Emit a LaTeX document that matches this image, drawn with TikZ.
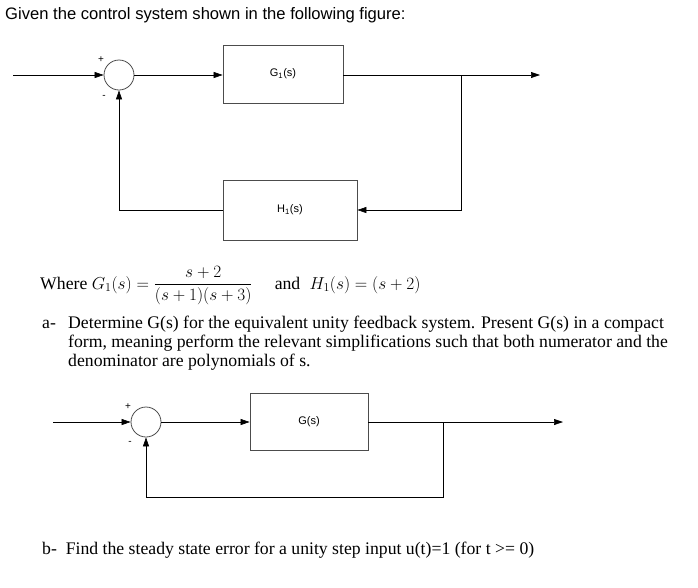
\documentclass[tikz,border=0pt]{standalone}
\usepackage{amsmath}
\usepackage{fontspec}
\setmainfont{Liberation Serif}
\newfontfamily\arial{Liberation Sans}
\usetikzlibrary{arrows.meta}
\begin{document}
\begin{tikzpicture}[x=1pt,y=-1pt,
  blk/.style={draw=black!70,line width=0.8pt,minimum width=#1,inner sep=0},
  sumj/.style={draw=black!70,circle,minimum size=30pt,inner sep=0,line width=0.8pt},
  sig/.style={draw=black,line width=0.6pt},
  arr/.style={sig,-{Triangle[length=9pt,width=6pt]}},
  lbl/.style={font=\arial\fontsize{11}{13}\selectfont},
  sgn/.style={font=\arial\fontsize{10}{11}\selectfont,inner sep=0},
  txt/.style={anchor=base west,inner sep=0,font=\fontsize{17.7}{20}\selectfont}]
\useasboundingbox (0,0) rectangle (698,587);
\node[anchor=base west,inner sep=0,font=\arial\fontsize{16.6}{19}\selectfont] (title) at (5,19) {Given the control system shown in the following figure:};
% diagram 1
\coordinate (in1) at (13,75);
\node[sumj] (s1) at (119,75) {};
\node[blk=120pt,minimum height=58pt,lbl] (g1) at (283,74) {G\textsubscript{1}(s)};
\node[blk=134pt,minimum height=60pt,lbl] (h1) at (290,210) {H\textsubscript{1}(s)};
\coordinate (out1) at (540,75);
\coordinate (br1) at (461,75);
\node[sgn] (p1) at (101,60) {+};
\node[sgn] (m1) at (104,97) {-};
\draw[arr] (in1) -- (s1);
\draw[arr] (s1) -- (g1.west |- s1);
\draw[arr] (g1.east |- br1) -- (out1);
\draw[arr] (br1) |- (h1.east);
\draw[arr] (h1.west) -| (s1.south);
% formula
\node[txt] (where) at (40,289) {Where $G_{1}(s)=\dfrac{s+2}{(s+1)(s+3)}$\quad\ and $\;H_{1}(s)=(s+2)$};
\node[txt] (a) at (42,328) {a-};
\node[txt] (a1) at (68,328) {Determine G(s) for the equivalent unity feedback system. Present G(s) in a compact};
\node[txt] (a2) at (68,347) {form, meaning perform the relevant simplifications such that both numerator and the};
\node[txt] (a3) at (68,366) {denominator are polynomials of s.};
% diagram 2
\coordinate (in2) at (53,422);
\node[sumj] (s2) at (146,422) {};
\node[blk=118pt,minimum height=57pt,lbl] (g2) at (309,422) {G(s)};
\coordinate (out2) at (563,422);
\coordinate (br2) at (443,422);
\coordinate (bt2) at (443,497);
\node[sgn] (p2) at (128,407) {+};
\node[sgn] (m2) at (130,443) {-};
\draw[arr] (in2) -- (s2);
\draw[arr] (s2) -- (g2);
\draw[arr] (g2) -- (out2);
\draw[arr] (br2) -- (bt2) -| (s2.south);
\node[txt] (b) at (42,554) {b-\ \ Find the steady state error for a unity step input u(t)=1 (for t >= 0)};
\end{tikzpicture}
\end{document}
